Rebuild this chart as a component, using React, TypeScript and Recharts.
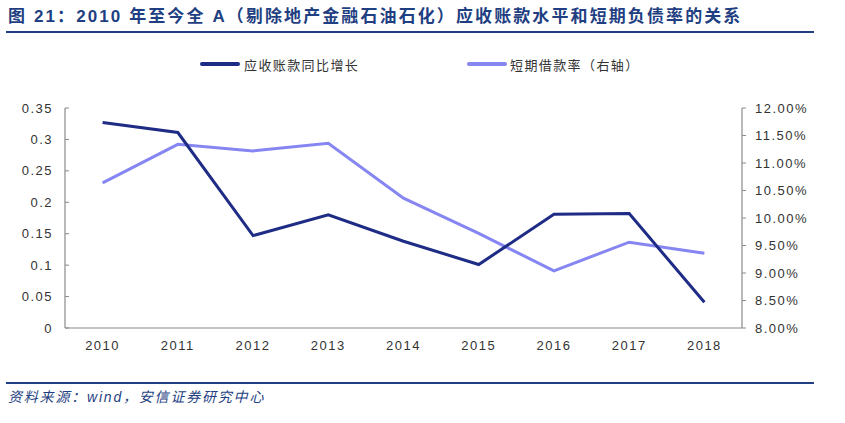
import React from 'react';
import { LineChart, Line, XAxis, YAxis, Legend } from 'recharts';

const years = ['2010', '2011', '2012', '2013', '2014', '2015', '2016', '2017', '2018'];
const receivableGrowth = [0.327, 0.311, 0.147, 0.18, 0.138, 0.101, 0.181, 0.182, 0.041];
const shortDebtRate = [0.1064, 0.1134, 0.1122, 0.1136, 0.1036, 0.0972, 0.0904, 0.0956, 0.0936];
const leftTicks = [0, 0.05, 0.1, 0.15, 0.2, 0.25, 0.3, 0.35];
const rightTicks = [0.08, 0.085, 0.09, 0.095, 0.1, 0.105, 0.11, 0.115, 0.12];
const categoryTicks = [0, 1, 2, 3, 4, 5, 6, 7, 8];
const boundaryTicks = [0.5, 1.5, 2.5, 3.5, 4.5, 5.5, 6.5, 7.5];

const seriesNames = ['应收账款同比增长', '短期借款率（右轴）'];
const titleText = '图 21：2010 年至今全 A（剔除地产金融石油石化）应收账款水平和短期负债率的关系';
const sourceText = '资料来源：wind，安信证券研究中心';

const data = years.map((y, i) => ({
  idx: i,
  year: y,
  growth: receivableGrowth[i],
  rate: shortDebtRate[i],
}));

const DARK = '#1f2c86';
const LIGHT = '#8686f2';
const AXIS = '#8a8a8a';
const TITLE_BLUE = '#1f3f82';
const FONT = '"Liberation Sans", Arial, "Noto Sans CJK SC", sans-serif';
const CJK = '"Liberation Sans", "Noto Sans CJK SC", sans-serif';

const tickStyle = { fontSize: 13, fill: '#333', fontFamily: FONT, letterSpacing: 1.5 };

const LegendContent = () => (
  <div style={{ position: 'relative', height: 20, fontFamily: CJK, fontSize: 13, color: '#333', letterSpacing: 1.4 }}>
    <div style={{ position: 'absolute', left: 200, top: 8, width: 40, height: 4, background: DARK, borderRadius: 2 }} />
    <div style={{ position: 'absolute', left: 244, top: 1, whiteSpace: 'nowrap' }}>{seriesNames[0]}</div>
    <div style={{ position: 'absolute', left: 467, top: 8, width: 40, height: 4, background: LIGHT, borderRadius: 2 }} />
    <div style={{ position: 'absolute', left: 510, top: 1, whiteSpace: 'nowrap' }}>{seriesNames[1]}</div>
  </div>
);

export default function App() {
  return (
    <div style={{ position: 'fixed', left: 0, top: 0, width: 845, height: 423, background: '#fff', overflow: 'hidden' }}>
      <div
        style={{
          position: 'absolute',
          left: 8,
          top: 5,
          fontFamily: CJK,
          fontWeight: 'bold',
          fontSize: 17,
          letterSpacing: 2.1,
          color: TITLE_BLUE,
          whiteSpace: 'nowrap',
          lineHeight: '24px',
        }}
      >
        {titleText}
      </div>
      <div style={{ position: 'absolute', left: 6, top: 31, width: 808, height: 1.5, background: TITLE_BLUE }} />
      <div style={{ position: 'absolute', left: 6, top: 382, width: 808, height: 1.5, background: TITLE_BLUE }} />
      <div
        style={{
          position: 'absolute',
          left: 8,
          top: 387,
          fontFamily: CJK,
          fontStyle: 'italic',
          fontSize: 14,
          letterSpacing: 1.8,
          color: TITLE_BLUE,
          whiteSpace: 'nowrap',
          lineHeight: '20px',
        }}
      >
        {sourceText}
      </div>
      <div style={{ position: 'absolute', left: 0, top: 0 }}>
        <LineChart width={845} height={423} data={data} margin={{ top: 88, right: 0, bottom: 65, left: 0 }}>
          <Legend verticalAlign="top" height={20} content={<LegendContent />} wrapperStyle={{ top: 54, left: 0, width: 845 }} />
          <XAxis
            xAxisId="grid"
            dataKey="idx"
            type="number"
            domain={[-0.5, 8.5]}
            allowDataOverflow
            ticks={boundaryTicks}
            interval={0}
            tick={false}
            tickSize={-5}
            axisLine={false}
            tickLine={{ stroke: AXIS }}
            height={0}
          />
          <XAxis
            dataKey="idx"
            type="number"
            domain={[-0.5, 8.5]}
            allowDataOverflow
            ticks={categoryTicks}
            interval={0}
            tickFormatter={(v: number) => years[v]}
            tick={tickStyle}
            tickLine={false}
            tickSize={6}
            tickMargin={7}
            axisLine={{ stroke: AXIS, strokeWidth: 1.2 }}
            height={30}
          />
          <YAxis
            yAxisId="left"
            width={65}
            domain={[0, 0.35]}
            ticks={leftTicks}
            interval={0}
            tick={tickStyle}
            tickSize={-4}
            tickMargin={16}
            axisLine={{ stroke: AXIS, strokeWidth: 1.2 }}
            tickLine={{ stroke: AXIS }}
          />
          <YAxis
            yAxisId="right"
            orientation="right"
            width={103}
            domain={[0.08, 0.12]}
            ticks={rightTicks}
            interval={0}
            tickFormatter={(v: number) => (v * 100).toFixed(2) + '%'}
            tick={tickStyle}
            tickSize={4}
            tickMargin={9}
            axisLine={{ stroke: AXIS, strokeWidth: 1.2 }}
            tickLine={{ stroke: AXIS }}
          />
          <Line
            yAxisId="right"
            dataKey="rate"
            name={seriesNames[1]}
            stroke={LIGHT}
            strokeWidth={3}
            dot={false}
            activeDot={false}
            type="linear"
            isAnimationActive={false}
          />
          <Line
            yAxisId="left"
            xAxisId="grid"
            dataKey="growth"
            name={seriesNames[0]}
            stroke={DARK}
            strokeWidth={3}
            dot={false}
            activeDot={false}
            type="linear"
            isAnimationActive={false}
          />
        </LineChart>
      </div>
    </div>
  );
}
